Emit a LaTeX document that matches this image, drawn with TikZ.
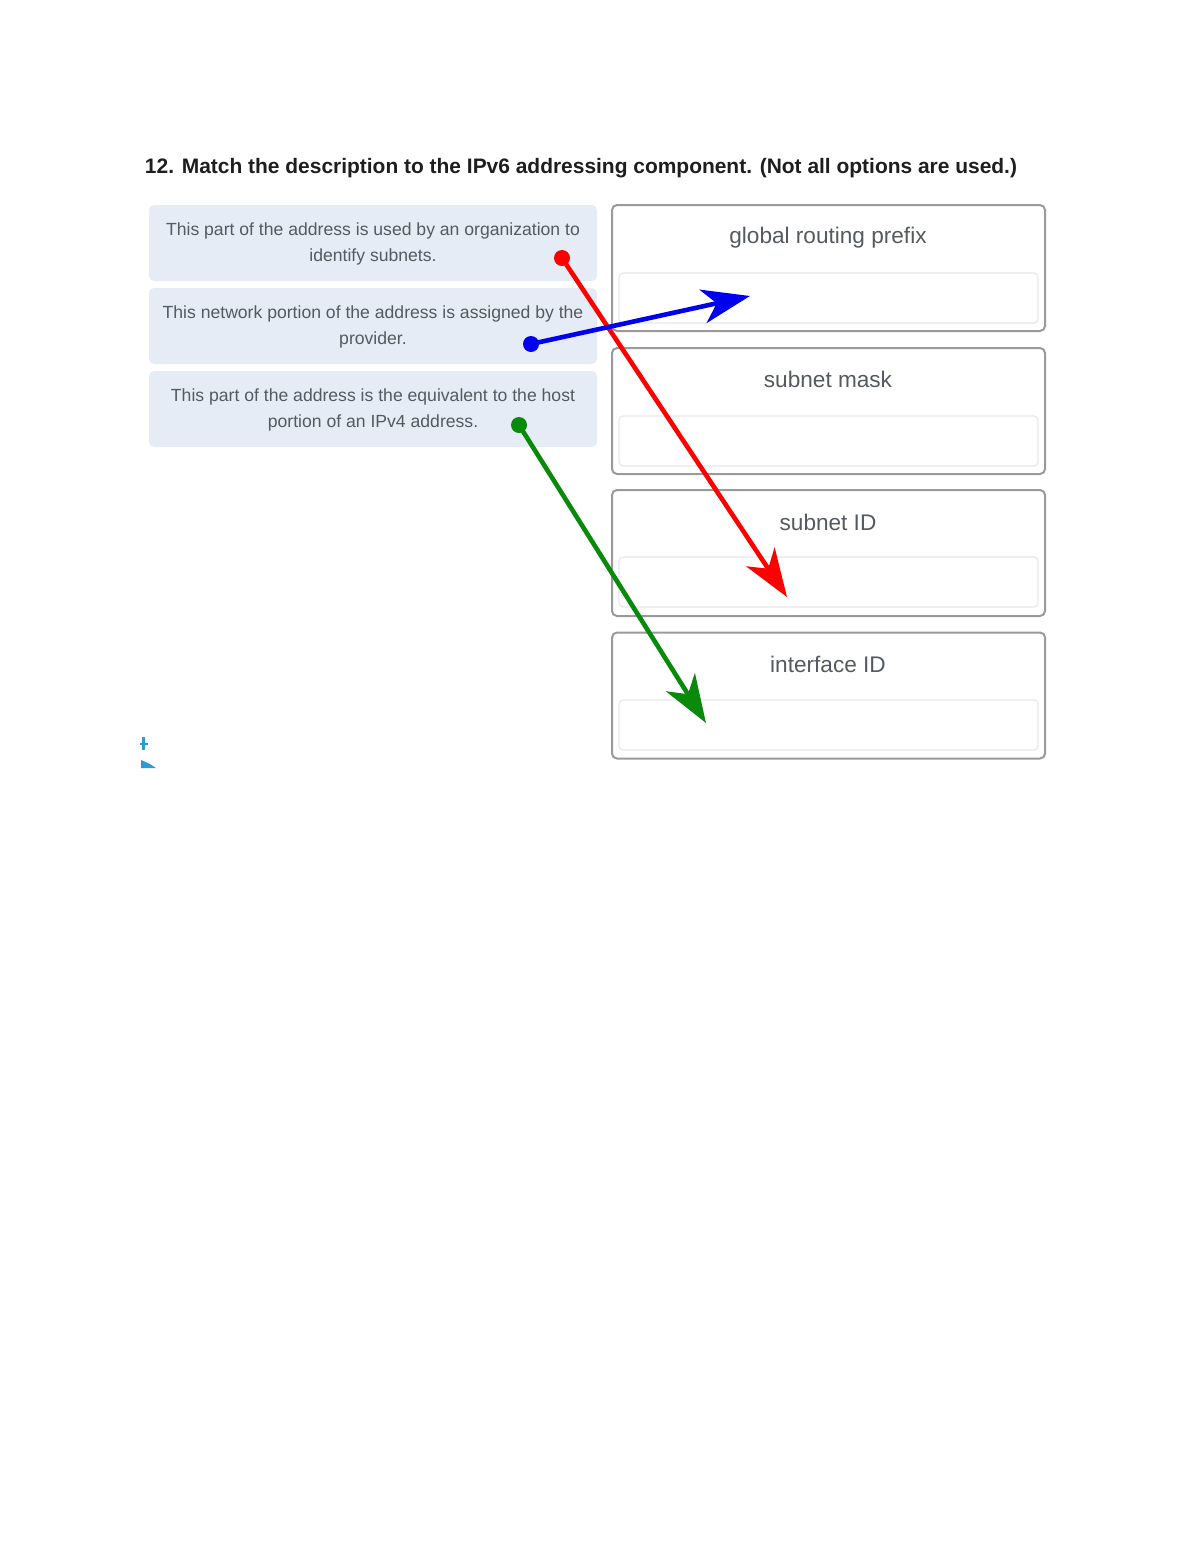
\documentclass[tikz,border=0pt]{standalone}
\usepackage{fontspec}
\setmainfont{Liberation Sans}
\usetikzlibrary{arrows.meta}
\definecolor{descfill}{HTML}{E6ECF5}
\definecolor{desctext}{HTML}{555A60}
\definecolor{ansborder}{HTML}{9A9A9A}
\definecolor{innerborder}{HTML}{E6E8EE}
\definecolor{titletext}{HTML}{1E1E1E}
\definecolor{myred}{HTML}{FF0000}
\definecolor{myblue}{HTML}{0000F0}
\definecolor{mygreen}{HTML}{0A8A0A}
\definecolor{artblue}{HTML}{2A9AD8}
\tikzset{
  descbox/.style={draw=none, fill=descfill, rounded corners=2.5pt, minimum width=224pt, minimum height=38pt, inner sep=0pt},
  desctxt/.style={text=desctext, font=\fontsize{8.8}{13}\selectfont, align=center, inner sep=0pt},
  ansbox/.style={draw=ansborder, line width=1pt, fill=white, rounded corners=2.5pt, minimum width=216.5pt, minimum height=63pt, inner sep=0pt},
  innerbox/.style={draw=innerborder, line width=0.6pt, fill=white, rounded corners=2pt, minimum width=209.5pt, minimum height=25pt, inner sep=0pt},
  anslabel/.style={text=desctext, font=\fontsize{11.3}{13}\selectfont, inner sep=0pt},
  dotnode/.style={circle, minimum size=8pt, inner sep=0pt},
  matcharrow/.style={line width=2.3pt, -{Stealth[length=24pt, width=17pt, inset=7pt]}},
}
\begin{document}
\begin{tikzpicture}[x=0.5pt, y=-0.5pt]
\useasboundingbox (0,0) rectangle (1200,1553);
% title
\node[inner sep=0pt, text=titletext] (title) at (581,168) {\resizebox{436pt}{!}{\bfseries 12. Match the description to the IPv6 addressing component. (Not all options are used.)}};
% description boxes
\node[descbox] (d1) at (373,243) {};
\node[desctxt] (d1t) at (373,244) {This part of the address is used by an organization to\\identify subnets.};
\node[descbox] (d2) at (373,326) {};
\node[desctxt] (d2t) at (373,327) {This network portion of the address is assigned by the\\provider.};
\node[descbox] (d3) at (373,409) {};
\node[desctxt] (d3t) at (373,410) {This part of the address is the equivalent to the host\\portion of an IPv4 address.};
% answer boxes
\node[ansbox] (a1) at (828.5,268) {};
\node[innerbox] (i1) at (828.5,298) {};
\node[anslabel] (l1) at (828,238) {global routing prefix};
\node[ansbox] (a2) at (828.5,411) {};
\node[innerbox] (i2) at (828.5,441) {};
\node[anslabel] (l2) at (828,379) {subnet mask};
\node[ansbox] (a3) at (828.5,553) {};
\node[innerbox] (i3) at (828.5,582) {};
\node[anslabel] (l3) at (828,522) {subnet ID};
\node[ansbox] (a4) at (828.5,695.5) {};
\node[innerbox] (i4) at (828.5,725) {};
\node[anslabel] (l4) at (828,664) {interface ID};
% arrows
\node[dotnode, fill=myred] (rdot) at (562,258) {};
\coordinate (rtip) at (787,597);
\node[dotnode, fill=myblue] (bdot) at (531,344) {};
\coordinate (btip) at (750,296);
\node[dotnode, fill=mygreen] (gdot) at (519,425) {};
\coordinate (gtip) at (706,723);
\draw[matcharrow, myred] (rdot.center) -- (rtip);
\draw[matcharrow, myblue] (bdot.center) -- (btip);
\draw[matcharrow, mygreen] (gdot.center) -- (gtip);
% small blue artefact at lower left
\fill[artblue] (142,737) rectangle (145,750);
\fill[artblue] (140,743) rectangle (148,745);
\fill[artblue] (141,760) -- (150,764) -- (156,768) -- (141,768) -- cycle;
\end{tikzpicture}
\end{document}
